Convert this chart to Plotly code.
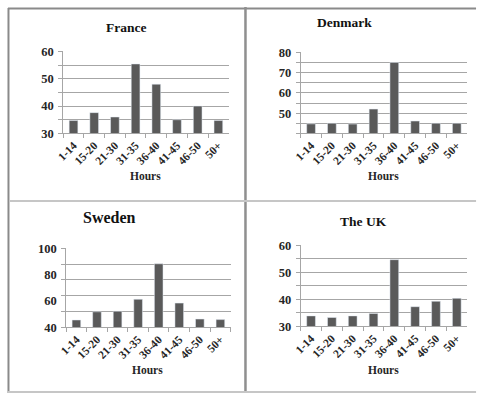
import plotly.graph_objects as go

# ---- data ----
hours = ["1-14", "15-20", "21-30", "31-35", "36-40", "41-45", "46-50", "50+"]
france = [34.7, 37.6, 36.0, 55.4, 48.0, 35.0, 40.0, 34.7]
denmark = [44.7, 45.0, 44.6, 52.0, 75.0, 46.1, 45.0, 45.0]
sweden = [45.6, 51.8, 52.2, 61.3, 88.2, 58.4, 46.3, 45.9]
uk = [33.9, 33.3, 33.9, 34.8, 54.7, 37.3, 39.3, 40.4]

countries = ["France", "Denmark", "Sweden", "The UK"]
series = [france, denmark, sweden, uk]
y_ranges = [[30, 60], [40, 80], [40, 100], [30, 60]]
y_ticks = [[30, 40, 50, 60], [50, 60, 70, 80], [40, 60, 80, 100], [30, 40, 50, 60]]
grid_steps = [5, 5, 12, 5]
x_title = "Hours"

W, H = 480, 400
FONT = "Liberation Serif"
BAR = "#5a5a5a"
GRID = "#a6a6a6"
TXT = "#262626"

# plot-area boxes in pixels: x0, x1, y_top, y_bottom
boxes = [(57, 225, 46, 131), (298, 467, 47, 131), (60, 227, 250, 332), (298, 467, 247, 331)]
titles_pos = [(121, 21, 13.5), (342, 16, 13.5), (104, 218, 16), (362, 222, 13.5)]
hours_pos = [(141, 175), (382, 175), (143, 376), (382, 376)]

fig = go.Figure()
layout = {}
for i, (name, vals) in enumerate(zip(countries, series)):
    n = "" if i == 0 else str(i + 1)
    fig.add_trace(go.Bar(x=hours, y=vals, marker_color=BAR, xaxis="x" + n, yaxis="y" + n,
                         showlegend=False, hoverinfo="x+y"))
    x0, x1, yt, yb = boxes[i]
    layout["xaxis" + n] = dict(
        domain=[x0 / W, x1 / W], anchor="y" + n, type="category",
        showline=True, linecolor=GRID, linewidth=1, showgrid=False,
        ticks="outside", ticklen=4, tickcolor=GRID, tickson="boundaries",
        tickangle=-45, tickfont=dict(family=FONT, size=11.5, color=TXT, weight="bold"),
        fixedrange=True,
    )
    layout["yaxis" + n] = dict(
        domain=[1 - yb / H, 1 - yt / H], anchor="x" + n, range=y_ranges[i],
        tickvals=y_ticks[i], showline=True, linecolor=GRID, linewidth=1,
        showgrid=False, ticks="", zeroline=False, ticklabelstandoff=6,
        tickfont=dict(family=FONT, size=12.5, color=TXT, weight="bold"),
        minor=dict(tick0=y_ranges[i][0], dtick=grid_steps[i], showgrid=True,
                   gridcolor=GRID, gridwidth=1.2, ticks="outside", ticklen=4, tickcolor=GRID),
        fixedrange=True,
    )

annotations = []
for (name, (tx, ty, fs)) in zip(countries, titles_pos):
    annotations.append(dict(text=name, x=tx / W, y=1 - ty / H, xref="paper", yref="paper",
                            showarrow=False, xanchor="center", yanchor="middle",
                            font=dict(family=FONT, size=fs, color="#111111", weight="bold")))
for (hx, hy) in hours_pos:
    annotations.append(dict(text=x_title, x=hx / W, y=1 - hy / H, xref="paper", yref="paper",
                            showarrow=False, xanchor="center", yanchor="middle",
                            font=dict(family=FONT, size=11.5, color=TXT, weight="bold")))

def line(x0, y0, x1, y1, color, w):
    return dict(type="line", xref="paper", yref="paper", x0=x0 / W, y0=1 - y0 / H,
                x1=x1 / W, y1=1 - y1 / H, line=dict(color=color, width=w))

shapes = [
    line(1.5, 1, 1.5, 400, "#8a8a8a", 2),
    line(1, 1.5, 476, 1.5, "#8a8a8a", 2),
    line(242, 0, 242, 400, "#8f8f8f", 2.5),
    line(2, 201, 476, 201, "#c6c6c6", 2),
    line(0, 399, 476, 399, "#c6c6c6", 2),
]

fig.update_layout(width=W, height=H, margin=dict(l=0, r=0, t=0, b=0),
                  paper_bgcolor="white", plot_bgcolor="white", bargap=0.58,
                  annotations=annotations, shapes=shapes, **layout)
fig.write_html(
    "out.html",
    config={"displayModeBar": False},
    post_script="document.body.style.margin='0';document.body.style.overflow='hidden';",
)
